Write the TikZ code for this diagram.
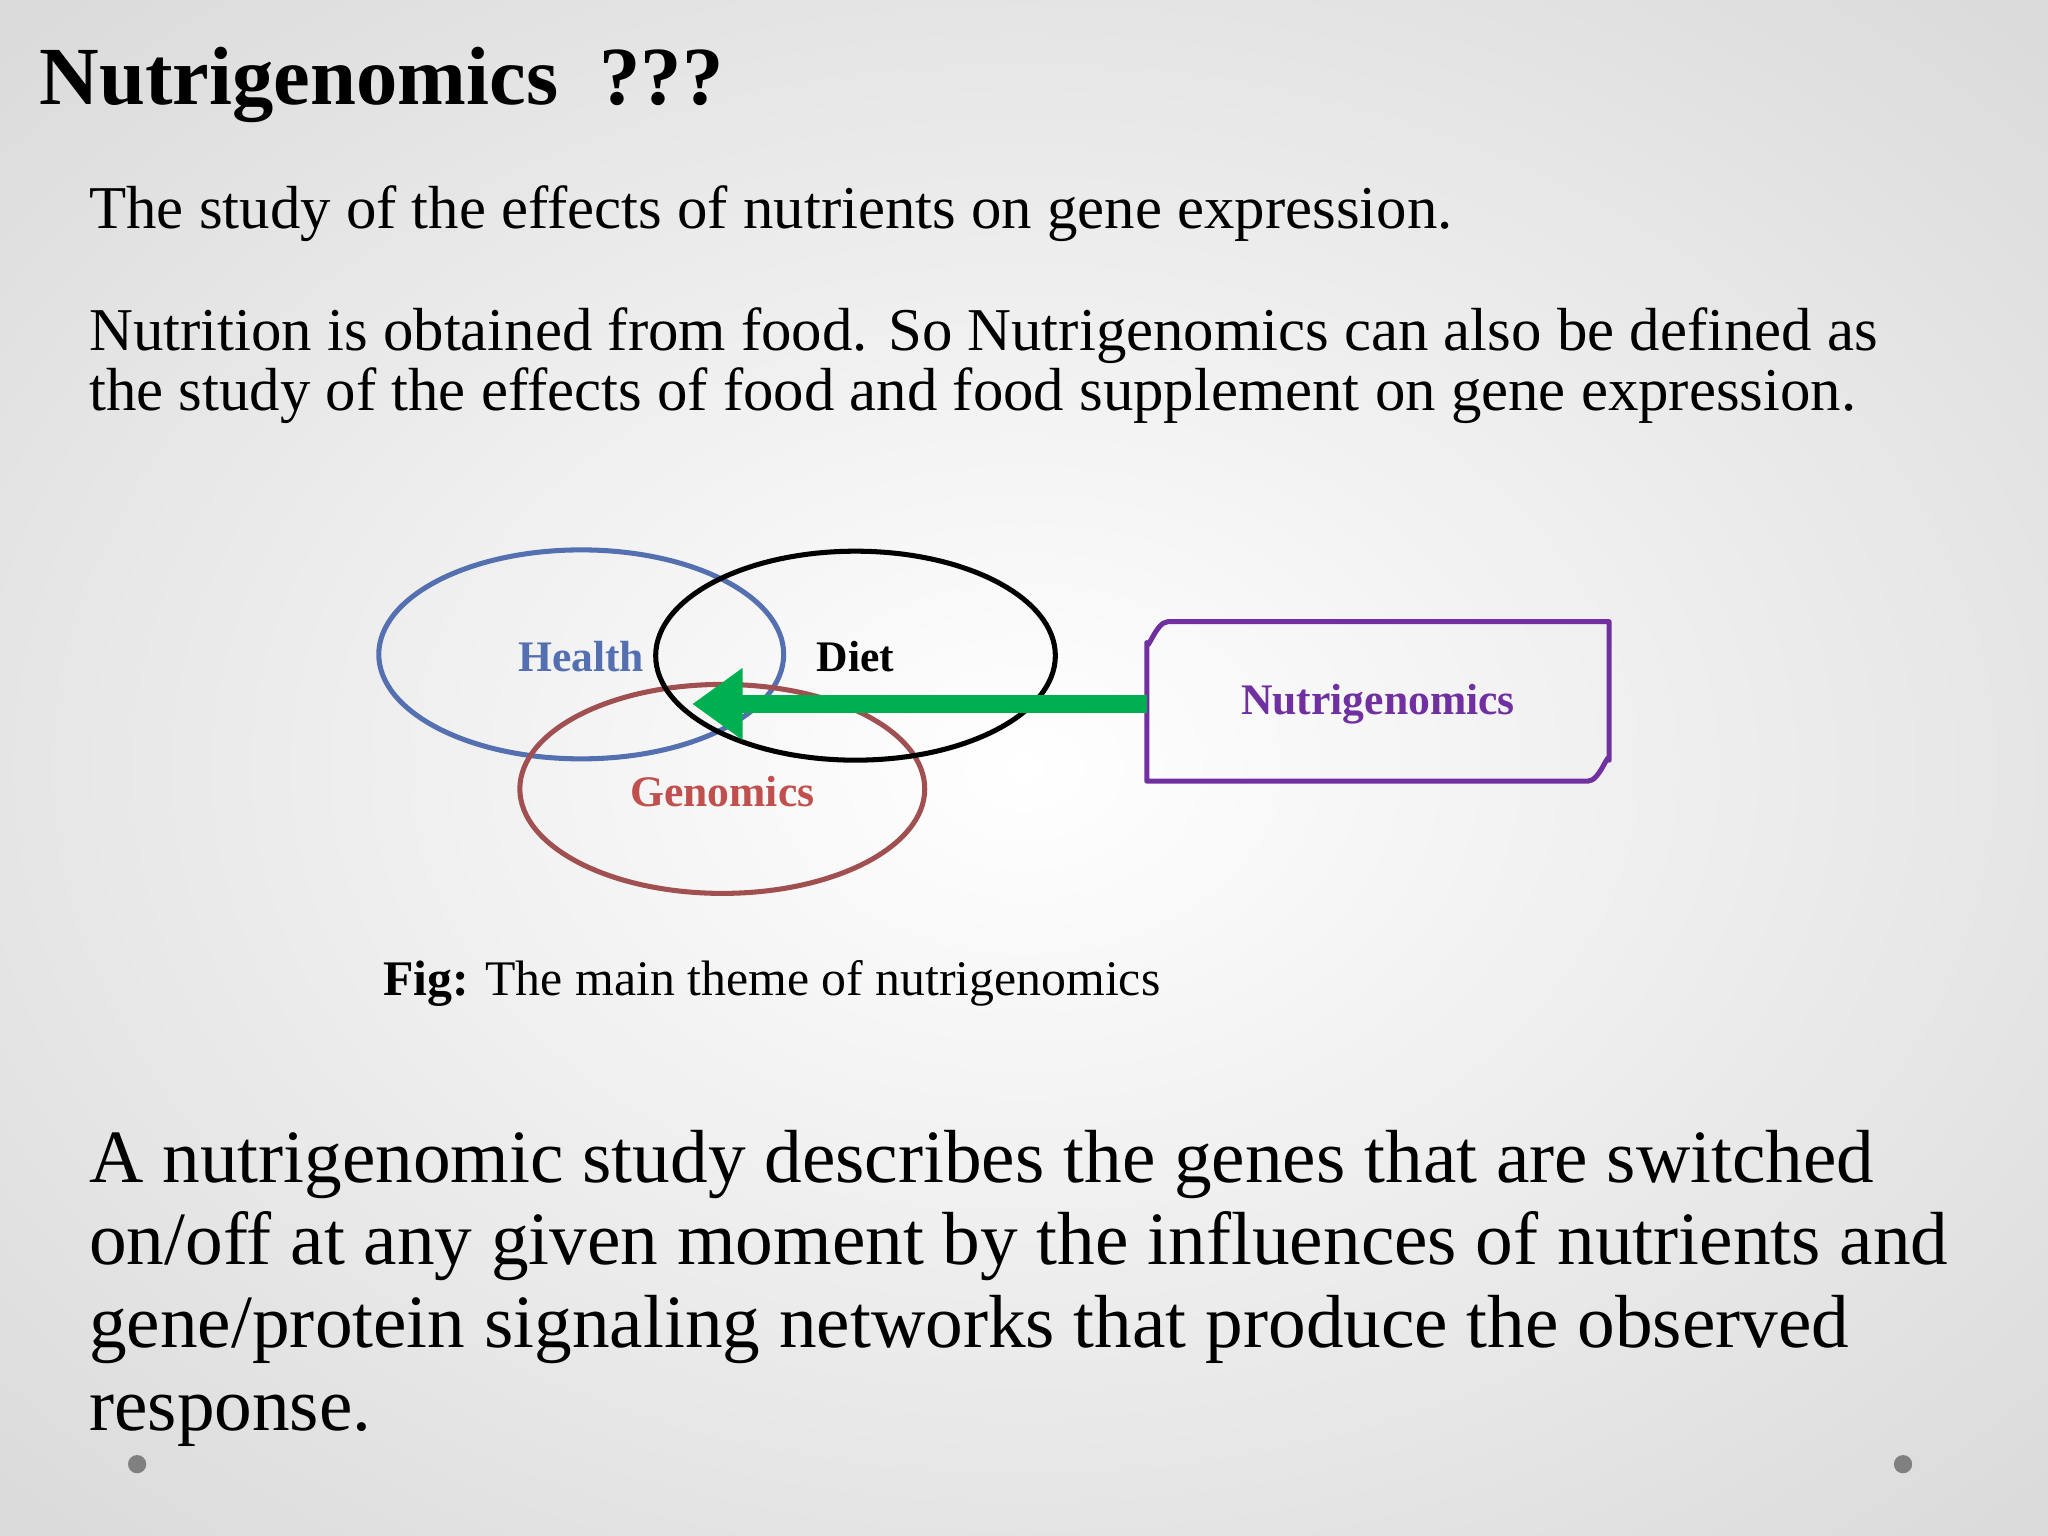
\documentclass[tikz,border=0pt]{standalone}
\usepackage{fontspec}
\setmainfont{Liberation Serif}
\usetikzlibrary{arrows.meta}
\definecolor{hblue}{HTML}{5470B0}
\definecolor{gred}{HTML}{A05050}
\definecolor{gtext}{HTML}{C0504D}
\definecolor{npurp}{HTML}{7030A0}
\definecolor{agreen}{HTML}{00B050}
\tikzset{
 txt/.style={anchor=base west,inner sep=0pt},
 lbl/.style={font=\fontsize{19}{22}\selectfont\bfseries,inner sep=0pt},
 ell/.style={line width=2.2pt},
}
\begin{document}
\begin{tikzpicture}[x=0.02cm,y=-0.02cm]
\useasboundingbox (0,0) rectangle (1568,1176);
\begin{scope}
\clip (0,0) rectangle (1568,1176);
\shade[inner color=white,outer color=black!14] (-300,-200) rectangle (1868,1376);
\end{scope}
\node[txt,font=\fontsize{36}{40}\selectfont\bfseries] (title) at (30,80) {Nutrigenomics\ \ ???};
\node[txt,font=\fontsize{26.5}{30}\selectfont] (l1) at (68,175) {The study of the effects of nutrients on gene expression.};
\node[txt,font=\fontsize{26.5}{30}\selectfont] (l2) at (68,268) {Nutrition is obtained from food. So Nutrigenomics can also be defined as};
\node[txt,font=\fontsize{26.5}{30}\selectfont] (l3) at (68,314) {the study of the effects of food and food supplement on gene expression.};
\draw[ell,hblue] (445,501) ellipse[x radius=155,y radius=80];
\draw[ell,gred] (553,604) ellipse[x radius=155,y radius=80];
\draw[ell,black] (655,502) ellipse[x radius=153,y radius=80];
\node[lbl,text=hblue] (health) at (445,503) {Health};
\node[lbl] (diet) at (655,503) {Diet};
\node[lbl,text=gtext] (gen) at (553,606) {Genomics};
\draw[npurp,line width=2.2pt,line join=round] (878,598) -- (878,492) to[out=-90,in=180] (894,476) -- (1232,476) -- (1232,582) to[out=90,in=0] (1216,598) -- cycle;
\coordinate (boxw) at (878,539);
\node[lbl,text=npurp] (nut) at (1055,539) {Nutrigenomics};
\coordinate (tip) at (530,539);
\draw[agreen,line width=8pt,-{Triangle[length=22,width=30]}] (boxw) -- (tip);
\node[txt,font=\fontsize{21.7}{24}\selectfont] (cap) at (293,762) {\textbf{Fig:} The main theme of nutrigenomics};
\foreach \y/\t [count=\i] in {905/{A nutrigenomic study describes the genes that are switched},968/{on/off at any given moment by the influences of nutrients and},1032/{gene/protein signaling networks that produce the observed},1095/{response.}}
 \node[txt,font=\fontsize{32.8}{36}\selectfont] (b\i) at (68,\y) {\t};
\fill[black!50] (105,1121) circle (7) (1457,1121) circle (7);
\end{tikzpicture}
\end{document}
